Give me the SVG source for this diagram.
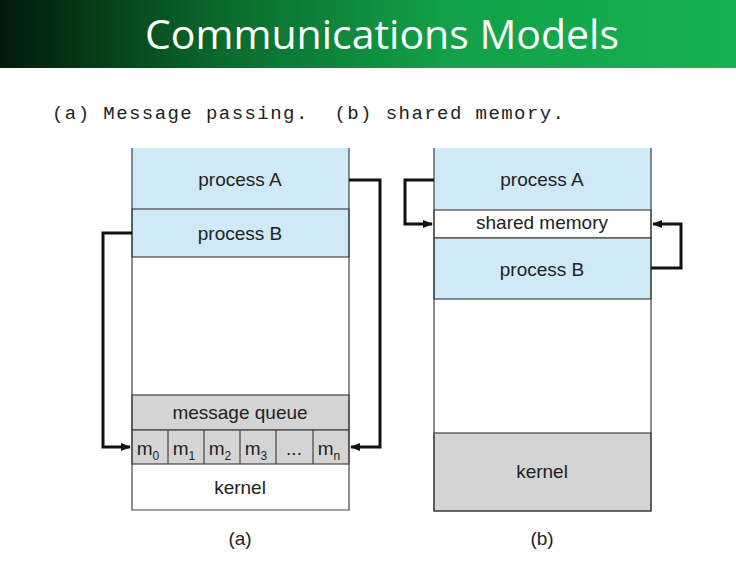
<svg xmlns="http://www.w3.org/2000/svg" width="736" height="564" viewBox="0 0 736 564">
<defs>
<linearGradient id="hg" x1="0" x2="1" y1="0" y2="0"><stop offset="0" stop-color="#021a0a"/><stop offset="0.3" stop-color="#0a6a2c"/><stop offset="0.6" stop-color="#12a048"/><stop offset="1" stop-color="#16b252"/></linearGradient>
<marker id="ar" markerWidth="10" markerHeight="10" refX="9" refY="5" orient="auto" markerUnits="userSpaceOnUse"><path d="M0,1 L10,5 L0,9 Z" fill="#111"/></marker>
<style>
.b{stroke:#444;stroke-width:1.2}
.o{fill:none;stroke:#444;stroke-width:1.2}
.t{font-family:"Liberation Sans",Arial,sans-serif;font-size:19px;fill:#222;text-anchor:middle}
.s{font-size:12px}
.c{fill:none;stroke:#111;stroke-width:3;marker-end:url(#ar)}
</style>
</defs>
<rect width="736" height="564" fill="#fff"/>
<rect width="736" height="68" fill="url(#hg)"/>
<text x="382" y="49" font-family="Open Sans,sans-serif" font-size="41" fill="#fff" text-anchor="middle">Communications Models</text>
<text x="52" y="119" font-family="Liberation Mono,monospace" font-size="19" fill="#222" textLength="512" xml:space="preserve">(a) Message passing.  (b) shared memory.</text>
<g id="boxA">
<rect x="132" y="148" width="217" height="61" fill="#cfe9f7"/>
<rect x="132" y="209" width="217" height="48" fill="#cfe9f7" class="b"/>
<rect x="132" y="395" width="217" height="35" fill="#d4d4d4" class="b"/>
<rect x="132" y="430" width="217" height="34" fill="#d4d4d4" class="b"/>
<path class="o" d="M168,430V464M204,430V464M240,430V464M276,430V464M313,430V464M132,148V510H349V148"/>
<text class="t" x="240" y="186">process A</text>
<text class="t" x="240" y="240">process B</text>
<text class="t" x="240" y="419">message queue</text>
<text class="t" x="148" y="455">m<tspan class="s" dy="5">0</tspan></text>
<text class="t" x="184" y="455">m<tspan class="s" dy="5">1</tspan></text>
<text class="t" x="220" y="455">m<tspan class="s" dy="5">2</tspan></text>
<text class="t" x="256" y="455">m<tspan class="s" dy="5">3</tspan></text>
<text class="t" x="294" y="455">...</text>
<text class="t" x="329" y="455">m<tspan class="s" dy="5">n</tspan></text>
<text class="t" x="240" y="494">kernel</text>
<text class="t" x="240" y="545">(a)</text>
</g>
<g id="boxB">
<rect x="434" y="148" width="217" height="62" fill="#cfe9f7"/>
<rect x="434" y="210" width="217" height="28" fill="#fff" class="b"/>
<rect x="434" y="238" width="217" height="61" fill="#cfe9f7" class="b"/>
<rect x="434" y="433" width="217" height="78" fill="#d4d4d4" class="b"/>
<path class="o" d="M434,148V511H651V148"/>
<text class="t" x="542" y="186">process A</text>
<text class="t" x="542" y="229">shared memory</text>
<text class="t" x="542" y="276">process B</text>
<text class="t" x="542" y="478">kernel</text>
<text class="t" x="542" y="545">(b)</text>
</g>
<g id="connectors">
<path class="c" d="M349,180H380V447H351"/>
<path class="c" d="M132,233H103V447H130"/>
<path class="c" d="M434,180H405V224H432"/>
<path class="c" d="M651,268H681V224H653"/>
</g>
</svg>
